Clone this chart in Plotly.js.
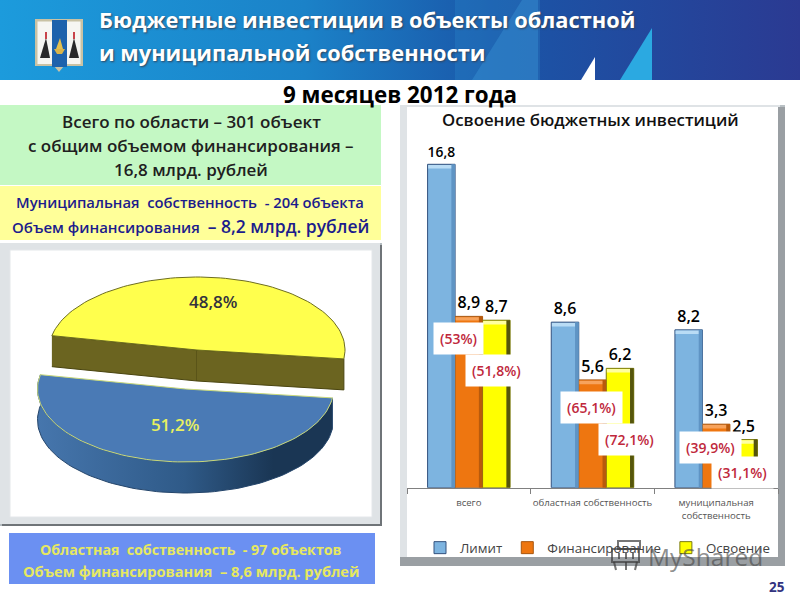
<!DOCTYPE html>
<html>
<head>
<meta charset="utf-8">
<script src="https://cdn.plot.ly/plotly-3.0.1.min.js"></script>
<style>html,body{margin:0;padding:0;background:#fff}#chart{width:800px;height:600px}</style>
</head>
<body>
<div id="chart"></div>
<script>
// ---------- data ----------
const categories = ['всего', 'областная собственность', 'муниципальная<br>собственность'];
const limit = [16.8, 8.6, 8.2];
const financing = [8.9, 5.6, 3.3];
const mastered = [8.7, 6.2, 2.5];
const financingPct = ['(53%)', '(65,1%)', '(39,9%)'];
const masteredPct = ['(51,8%)', '(72,1%)', '(31,1%)'];
const seriesNames = ['Лимит', 'Финансирование', 'Освоение'];
const pieShares = [48.8, 51.2];
const titleLines = ['Бюджетные инвестиции в объекты областной', 'и муниципальной собственности'];

// ---------- helpers ----------
const W = 800, H = 600;
const px = x => x / W, py = y => 1 - y / H;
const F = 'Open Sans, sans-serif';
const fmt = v => String(v).replace('.', ',');
const shapes = [], annotations = [];
const paperRect = (x0, y0, x1, y1, fill, line, layer) => shapes.push({
  type: 'rect', xref: 'paper', yref: 'paper', x0: px(x0), x1: px(x1), y0: py(y1), y1: py(y0),
  fillcolor: fill, line: line ? {color: line, width: 1} : {width: 0}, layer: layer || 'below'});
const paperPath = (pts, fill, line) => shapes.push({
  type: 'path', xref: 'paper', yref: 'paper', layer: 'below', fillcolor: fill,
  line: line ? {color: line, width: 1} : {width: 0},
  path: 'M' + pts.map(p => px(p[0]) + ',' + py(p[1])).join('L') + 'Z'});
const label = (text, x, y, size, color, extra) => annotations.push(Object.assign({
  text, xref: 'paper', yref: 'paper', x: px(x), y: py(y), showarrow: false,
  xanchor: 'center', yanchor: 'middle',
  font: {family: F, size, color, weight: 600}}, extra || {}));

// ---------- banner ----------
const bannerSvg = `<svg xmlns="http://www.w3.org/2000/svg" width="800" height="80">
<defs><linearGradient id="g" x1="0" x2="1" y1="0" y2="0">
<stop offset="0" stop-color="#1c9bdc"/><stop offset="0.38" stop-color="#1b82c8"/>
<stop offset="0.62" stop-color="#1a56a8"/><stop offset="1" stop-color="#2b3a92"/></linearGradient></defs>
<rect width="800" height="80" fill="url(#g)"/>
<rect x="455" width="85" height="80" fill="#2f8fd0" opacity="0.28"/>
<polygon points="472,80 522,0 538,0 538,80" fill="#3f9fdc" opacity="0.35"/>
<polygon points="620,80 652,28 652,80" fill="#2ba9e1"/>
<polygon points="581,80 595,57 595,80" fill="#ffffff"/>
</svg>`;
const images = [{
  source: 'data:image/svg+xml;charset=utf-8,' + encodeURIComponent(bannerSvg),
  xref: 'paper', yref: 'paper', x: 0, y: 1, sizex: 1, sizey: 80 / H,
  sizing: 'stretch', xanchor: 'left', yanchor: 'top', layer: 'below'}];

// coat of arms
paperPath([[35,19],[83,19],[83,66],[64,66],[59,72],[54,66],[35,66]], '#c9c2a4');
paperRect(37.5, 21.5, 80.5, 64, '#f6f6f2');
paperRect(52, 20, 67, 67, '#1d62ac');
paperPath([[40,58],[46,38],[50,58]], '#2a2a2a');
paperPath([[69,58],[74,38],[79,58]], '#2a2a2a');
paperPath([[45,39],[47,39],[47,32],[45,32]], '#c8434a');
paperPath([[73,39],[75,39],[75,32],[73,32]], '#c8434a');
paperPath([[54,49],[65,49],[62,54],[57,54]], '#d9b44a');
paperPath([[56,49],[60,38],[63,49]], '#e3c04f');

titleLines.forEach((t, i) => label(t, 97, 20 + i * 32, 21.8, '#ffffff',
  {xanchor: 'left', font: {family: F, size: 21.8, color: '#ffffff', weight: 700, shadow: '1px 1px 2px #33445c'}}));
label('9 месяцев 2012 года', 400, 94, 22.4, '#000000', {font: {family: F, size: 22.4, color: '#000', weight: 700}});

// left boxes
paperRect(0, 105, 381, 185, '#c4f8c4');
paperRect(0, 186, 381, 240, '#ffff99');
paperRect(9, 533, 375, 584, '#6b90f2');
label('Всего по области – 301 объект', 191, 121, 17, '#202020');
label('с общим объемом финансирования –', 191, 145, 17, '#202020');
label('16,8 млрд. рублей', 191, 169, 17, '#202020');
label('Муниципальная  собственность  - 204 объекта', 190, 202, 14.8, '#1c1c8c');
label('Объем финансирования  <span style="font-size:17.5px">– 8,2 млрд. рублей</span>', 190, 226, 15, '#1c1c8c');
label('Областная  собственность  - 97 объектов', 191, 549, 14.2, '#e6e860', {font: {family: F, size: 14.2, color: '#e6e860', weight: 700}});
label('Объем финансирования  – 8,6 млрд. рублей', 191, 571, 14.6, '#e6e860', {font: {family: F, size: 14.6, color: '#e6e860', weight: 700}});

// framed panels
paperRect(0, 243, 382, 526, '#b4bcc0');
paperRect(0, 243, 380, 524, '#dfe3e6');
paperRect(380, 245, 382, 526, '#6f7478');
paperRect(2, 524, 382, 526, '#6f7478');
paperRect(10, 250, 372, 517, '#ffffff', '#e4e7ea');
paperRect(400, 105, 785, 566, '#b9c0c4');
paperRect(400, 105, 780, 561, '#dfe3e6');
paperRect(407, 107, 778, 557, '#ffffff');
paperRect(778, 107, 785, 566, '#9a9fa3');
paperRect(400, 557, 785, 566, '#9a9fa3');
label('Освоение бюджетных инвестиций', 590, 120, 16.8, '#111111');
label('25', 777, 587, 13.5, '#33337f', {font: {family: F, size: 13.5, color: '#33337f', weight: 700}});

// ---------- bars ----------
const barColors = ['#7db4e0', '#ee7610', '#ffff00'];
const barLines = ['#34527e', '#a8560f', '#7a7a10'];
const barTops = ['#b9dcf5', '#f7a35c', '#ffffa0'];
const barSides = ['#5f94c4', '#b95a0c', '#55550c'];
const seriesValues = [limit, financing, mastered];
const barGap = 0.333, barW = (1 - barGap) / 3;
const traces = seriesValues.map((vals, j) => ({
  type: 'bar', name: seriesNames[j], x: categories, y: vals,
  text: vals.map(fmt), textposition: 'outside', cliponaxis: false,
  textfont: {family: F, size: 16, color: '#000', weight: 600},
  marker: {color: barColors[j], line: {color: barLines[j], width: 1}},
  xaxis: 'x', yaxis: 'y', hoverinfo: 'skip'
}));
seriesValues.forEach((vals, j) => vals.forEach((v, i) => {
  const c = i + (j - 1) * barW, l = c - barW / 2, r = c + barW / 2;
  shapes.push({type: 'rect', xref: 'x', yref: 'y', layer: 'above', x0: l + 0.005, x1: r - 0.005, y0: v - 0.22, y1: v - 0.04,
    fillcolor: barTops[j], line: {width: 0}});
  shapes.push({type: 'rect', xref: 'x', yref: 'y', layer: 'above', x0: r - 0.03, x1: r, y0: 0, y1: v,
    fillcolor: barSides[j], line: {width: 0}});
}));

// percent tags
const pctPos = [[458, 339], [496, 370], [591, 407], [629, 440], [710, 447], [742, 472]];
[financingPct[0], masteredPct[0], financingPct[1], masteredPct[1], financingPct[2], masteredPct[2]].forEach((t, i) =>
  label(t, pctPos[i][0], pctPos[i][1], 14, '#c0283c',
    {bgcolor: '#ffffff', borderpad: 6, font: {family: F, size: 14, color: '#c0283c', weight: 600}}));

// ---------- pie (tilted, drawn on its own unit axes from the shares) ----------
const depth = 31 / 73, startDeg = -7;
const split = pieShares[0] / 100 * 360;
const arc = (a0, a1, dx, dy) => {
  const out = [], n = 90;
  for (let k = 0; k <= n; k++) {
    const a = (a0 + (a1 - a0) * k / n) * Math.PI / 180;
    out.push([dx + Math.cos(a), dy + Math.sin(a)]);
  }
  return out;
};
const poly = (pts, fill, line, extra) => Object.assign({
  type: 'scatter', mode: 'lines', x: pts.map(p => p[0]), y: pts.map(p => p[1]), fill: 'toself', fillcolor: fill,
  line: {color: line, width: 1}, xaxis: 'x2', yaxis: 'y2', showlegend: false, hoverinfo: 'skip'}, extra || {});
const yArc = arc(startDeg, startDeg + split, 0, 0);
const yL = yArc[yArc.length - 1], yR = yArc[0];
const drop = p => [p[0], p[1] - depth];
traces.push(poly([yL, [0, 0], drop([0, 0]), drop(yL)], '#6b6420', '#4a4510'));
traces.push(poly([[0, 0], yR, drop(yR), drop([0, 0])], '#6b6420', '#4a4510'));
traces.push(poly(yArc.concat([[0, 0]]).concat([yArc[0]]), '#ffff4d', '#6d6d20'));
const bx = -11.5 / 148, by = -39 / 73;
const bArc = arc(startDeg + split, startDeg + 360, bx, by);
traces.push(poly(bArc.concat(bArc.slice().reverse().map(drop)), '#2f5680', '#24456b', {
  fillgradient: {type: 'horizontal', colorscale: [[0, '#4676ad'], [0.5, '#2f5a88'], [0.8, '#1a3654'], [1, '#1a3654']]}
}));
traces.push(poly(bArc.concat([[bx, by]]).concat([bArc[0]]), '#4a7ab5', '#c8d87a'));
traces.push({type: 'scatter', mode: 'text', xaxis: 'x2', yaxis: 'y2', showlegend: false, hoverinfo: 'skip',
  x: [0.11, bx - 0.07], y: [0.63, by - 0.52],
  text: pieShares.map(v => fmt(v) + '%'),
  textfont: {family: F, size: 17, weight: 600, color: ['#33333d', '#e8f060']}});

// watermark
annotations.push({text: 'MyShared', xref: 'paper', yref: 'paper', x: px(646), y: py(556), xanchor: 'left', yanchor: 'middle',
  showarrow: false, font: {family: F, size: 24.5, color: 'rgba(70,70,70,0.62)'}});
const wm = {color: 'rgba(60,60,60,0.7)', width: 2};
const wmShape = (type, x0, y0, x1, y1) => shapes.push({type, xref: 'paper', yref: 'paper', layer: 'above',
  x0: px(x0), x1: px(x1), y0: py(y1), y1: py(y0), line: wm});
wmShape('rect', 612, 549, 639, 562);
wmShape('rect', 618, 541, 640, 549);
wmShape('line', 616, 562, 614, 570);
wmShape('line', 626, 562, 626, 570);
wmShape('line', 635, 562, 637, 570);
wmShape('line', 619, 553, 619, 559);
wmShape('line', 626, 553, 626, 559);
wmShape('line', 633, 553, 633, 559);

// ---------- layout ----------
const layout = {
  width: W, height: H, autosize: false, margin: {l: 0, r: 0, t: 0, b: 0, pad: 0},
  paper_bgcolor: '#ffffff', plot_bgcolor: 'rgba(0,0,0,0)', showlegend: true,
  barmode: 'group', bargap: barGap, bargroupgap: 0,
  xaxis: {domain: [px(407), px(778)], anchor: 'y', tickson: 'boundaries', ticks: 'outside', ticklen: 5, tickcolor: '#808080',
    showline: true, linecolor: '#808080', linewidth: 1, showgrid: false, zeroline: false, automargin: false,
    ticklabelstandoff: 6,
    tickfont: {family: F, size: 9.6, color: '#555555'}, tickangle: 0, fixedrange: true},
  yaxis: {domain: [py(487.7), py(141.2)], anchor: 'x', range: [0, 18], visible: false, fixedrange: true, showgrid: false, zeroline: false},
  xaxis2: {domain: [0, px(400)], anchor: 'y2', range: [-197 / 148, 203 / 148], visible: false, fixedrange: true},
  yaxis2: {domain: [py(520), py(240)], anchor: 'x2', range: [-170 / 73, 110 / 73], visible: false, fixedrange: true},
  legend: {orientation: 'h', x: px(420), xanchor: 'left', y: py(548), yanchor: 'middle', bgcolor: 'rgba(0,0,0,0)',
    font: {family: F, size: 13.3, color: '#444444'}, itemwidth: 30, traceorder: 'normal'},
  shapes, annotations, images
};
Plotly.newPlot('chart', traces, layout, {staticPlot: true, displayModeBar: false});
</script>
</body>
</html>
